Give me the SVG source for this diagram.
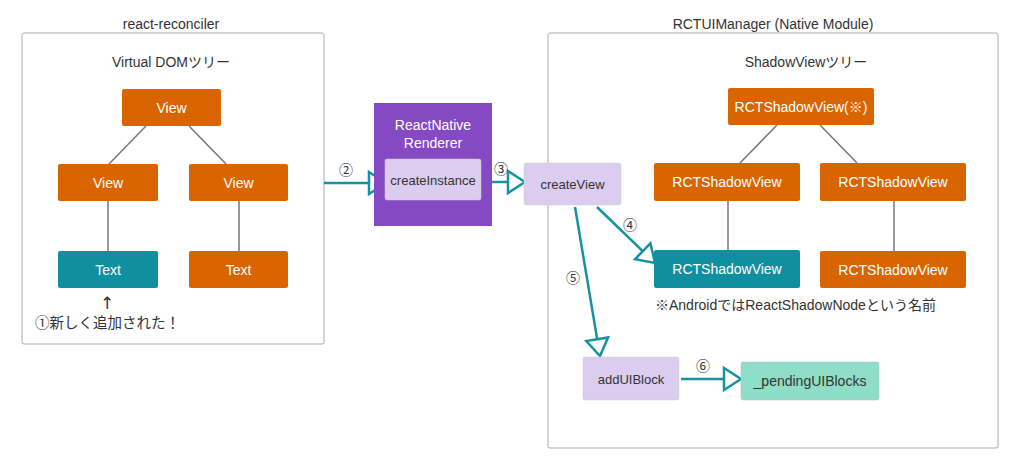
<svg xmlns="http://www.w3.org/2000/svg" width="1024" height="476" viewBox="0 0 1024 476">
<defs>
<style>
text{font-family:"Liberation Sans","Noto Sans CJK JP",sans-serif;font-size:14px;text-anchor:middle;dominant-baseline:central}
.panel{fill:#fff;stroke:#aaa;stroke-width:1}
.org{fill:#D96500}
.teal{fill:#0F8FA0}
.lav{fill:#DCCDF0;stroke:#ccc;stroke-width:0.5}
.w{fill:#fff}
.d{fill:#333}
.tree{stroke:#777;stroke-width:1.5;fill:none}
.arr{stroke:#1693A0;stroke-width:2.5;fill:none;marker-end:url(#open)}
</style>
<marker id="open" markerUnits="userSpaceOnUse" markerWidth="22" markerHeight="28" refX="19" refY="13" orient="auto" viewBox="0 0 22 26">
<path d="M2,2 L19,13 L2,24 Z" fill="#fff" stroke="#1693A0" stroke-width="2.5"/>
</marker>
</defs>
<rect width="1024" height="476" fill="#fff"/>

<g id="panel-left">
<text x="171" y="24" class="d">react-reconciler</text>
<rect class="panel" x="22" y="33" width="302" height="311" rx="2"/>
<text x="171" y="62" class="d">Virtual DOMツリー</text>
</g>
<g id="panel-right">
<text x="773" y="24" class="d">RCTUIManager (Native Module)</text>
<rect class="panel" x="548" y="33" width="450" height="415" rx="2"/>
<text x="806" y="62" class="d">ShadowViewツリー</text>
</g>

<g id="connectors">
<line class="tree" x1="146" y1="126" x2="109" y2="164"/>
<line class="tree" x1="189" y1="126" x2="226" y2="164"/>
<line class="tree" x1="108" y1="201" x2="108" y2="251"/>
<line class="tree" x1="239" y1="201" x2="239" y2="251"/>
<line class="tree" x1="777" y1="125" x2="740" y2="163"/>
<line class="tree" x1="820" y1="125" x2="857" y2="163"/>
<line class="tree" x1="728" y1="201" x2="728" y2="250"/>
<line class="tree" x1="894" y1="201" x2="894" y2="251"/>
<line class="arr" x1="324" y1="183" x2="386" y2="183"/>
<line class="arr" x1="482" y1="182" x2="525" y2="182"/>
<line class="arr" x1="597" y1="207" x2="655" y2="263"/>
<line class="arr" x1="575" y1="207" x2="600" y2="356"/>
<line class="arr" x1="681" y1="379" x2="741" y2="379"/>
<text x="346" y="170" class="d">②</text>
<text x="501" y="169" class="d">③</text>
<text x="630" y="225" class="d">④</text>
<text x="573" y="278" class="d">⑤</text>
<text x="703" y="366" class="d">⑥</text>
</g>

<g id="v-root"><rect class="org" x="122" y="89" width="99" height="37" rx="2"/><text x="171.5" y="108" class="w">View</text></g>
<g id="v-left"><rect class="org" x="58" y="164" width="100" height="37" rx="2"/><text x="108" y="183" class="w">View</text></g>
<g id="v-right"><rect class="org" x="189" y="164" width="99" height="37" rx="2"/><text x="238.5" y="183" class="w">View</text></g>
<g id="v-text-new"><rect class="teal" x="58" y="251" width="100" height="37" rx="2"/><text x="108" y="270" class="w">Text</text></g>
<g id="v-text"><rect class="org" x="189" y="251" width="99" height="37" rx="2"/><text x="238.5" y="270" class="w">Text</text></g>
<g id="note-new">
<text x="107" y="303" class="d" style="font-size:17px;font-family:'DejaVu Sans',sans-serif">↑</text>
<text x="35" y="323" class="d" style="text-anchor:start;font-size:14.5px">①新しく追加された！</text>
</g>

<g id="renderer">
<rect x="374" y="103" width="118" height="123" fill="#8549C4"/>
<text x="433" y="125" class="w">ReactNative</text>
<text x="433" y="143" class="w">Renderer</text>
</g>
<g id="createInstance"><rect class="lav" x="385" y="159" width="96" height="41" rx="2"/><text x="433" y="180" class="d" style="font-size:13px">createInstance</text></g>

<g id="createView"><rect class="lav" x="524" y="163" width="97" height="42" rx="2"/><text x="572.5" y="184" class="d" style="font-size:13px">createView</text></g>

<g id="s-root"><rect class="org" x="728" y="88" width="146" height="37" rx="2"/><text x="801" y="107" class="w">RCTShadowView(※)</text></g>
<g id="s-left"><rect class="org" x="654" y="163" width="146" height="38" rx="2"/><text x="727" y="182" class="w">RCTShadowView</text></g>
<g id="s-right"><rect class="org" x="820" y="163" width="146" height="38" rx="2"/><text x="893" y="182" class="w">RCTShadowView</text></g>
<g id="s-new"><rect class="teal" x="654" y="250" width="146" height="38" rx="2"/><text x="727" y="269" class="w">RCTShadowView</text></g>
<g id="s-leaf"><rect class="org" x="820" y="251" width="146" height="37" rx="2"/><text x="893" y="270" class="w">RCTShadowView</text></g>
<g id="note-android"><text x="655" y="305" class="d" style="text-anchor:start">※AndroidではReactShadowNodeという名前</text></g>

<g id="addUIBlock"><rect class="lav" x="583" y="357" width="96" height="43" rx="2"/><text x="631" y="379" class="d" style="font-size:13px">addUIBlock</text></g>
<g id="pendingUIBlocks"><rect x="741" y="362" width="138" height="38" rx="2" fill="#8EDDC7" stroke="#bbb" stroke-width="0.5"/><text x="810" y="381" class="d">_pendingUIBlocks</text></g>
</svg>
